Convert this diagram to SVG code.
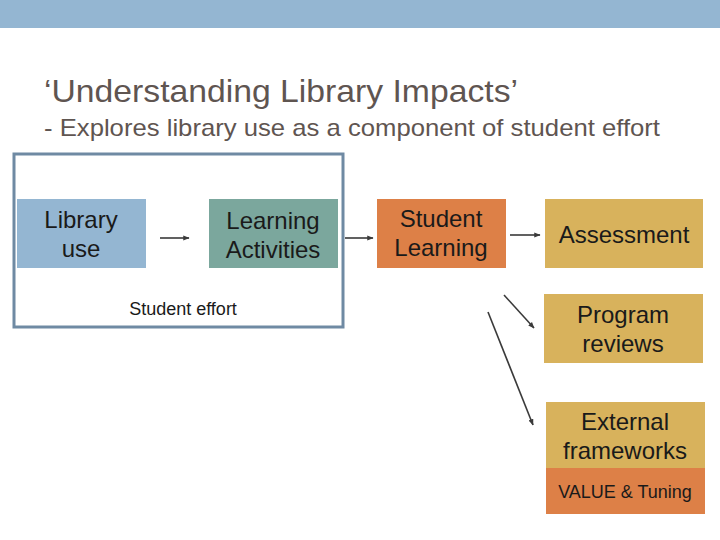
<svg xmlns="http://www.w3.org/2000/svg" width="720" height="540" viewBox="0 0 720 540">
<style>
.t{font-family:"Liberation Sans",Arial,sans-serif;fill:#1a1a1a;text-anchor:middle}
.b{font-size:24px}
.h{font-family:"Liberation Sans",Arial,sans-serif;fill:#5f5551}
.c{stroke:#3a3a3a;stroke-width:1.6;fill:none;marker-end:url(#ah)}
</style>
<defs>
<marker id="ah" viewBox="0 0 10 10" refX="9" refY="5" markerWidth="4" markerHeight="4" orient="auto" markerUnits="strokeWidth">
<path d="M0,1 L10,5 L0,9 z" fill="#3a3a3a"/>
</marker>
</defs>
<rect x="0" y="0" width="720" height="540" fill="#ffffff"/>
<rect x="0" y="0" width="720" height="28" fill="#94b6d2"/>
<text class="h" x="44" y="102" font-size="32" textLength="474" lengthAdjust="spacingAndGlyphs">‘Understanding Library Impacts’</text>
<text class="h" x="44" y="136" font-size="24" textLength="616" lengthAdjust="spacingAndGlyphs">- Explores library use as a component of student effort</text>
<g id="student-effort">
<rect x="14" y="154" width="329" height="173" fill="none" stroke="#6f8aa3" stroke-width="3"/>
<text class="t" x="183" y="315" font-size="18">Student effort</text>
</g>
<g id="library-use">
<rect x="17" y="199" width="129" height="69" fill="#94b6d2"/>
<text class="t b" x="81" y="228">Library</text>
<text class="t b" x="81" y="257">use</text>
</g>
<g id="learning-activities">
<rect x="209" y="199" width="129" height="69" fill="#7ba79d"/>
<text class="t b" x="273" y="229">Learning</text>
<text class="t b" x="273" y="258">Activities</text>
</g>
<g id="student-learning">
<rect x="377" y="199" width="129" height="69" fill="#dd8047"/>
<text class="t b" x="441" y="227">Student</text>
<text class="t b" x="441" y="256">Learning</text>
</g>
<g id="assessment">
<rect x="545" y="199" width="158" height="69" fill="#d8b25c"/>
<text class="t b" x="624" y="243">Assessment</text>
</g>
<g id="program-reviews">
<rect x="544" y="294" width="159" height="69" fill="#d8b25c"/>
<text class="t b" x="623" y="323">Program</text>
<text class="t b" x="623" y="352">reviews</text>
</g>
<g id="external-frameworks">
<rect x="546" y="402" width="159" height="66" fill="#d8b25c"/>
<text class="t b" x="625" y="430">External</text>
<text class="t b" x="625" y="459">frameworks</text>
<rect x="546" y="468" width="159" height="46" fill="#dd8047"/>
<text class="t" x="625" y="498" font-size="18">VALUE &amp; Tuning</text>
</g>
<g id="connectors">
<line class="c" x1="160" y1="238" x2="189" y2="238"/>
<line class="c" x1="345" y1="238" x2="373" y2="238"/>
<line class="c" x1="510" y1="235" x2="540" y2="235"/>
<line class="c" x1="504" y1="295" x2="534" y2="328"/>
<line class="c" x1="488" y1="312" x2="533" y2="425"/>
</g>
</svg>
